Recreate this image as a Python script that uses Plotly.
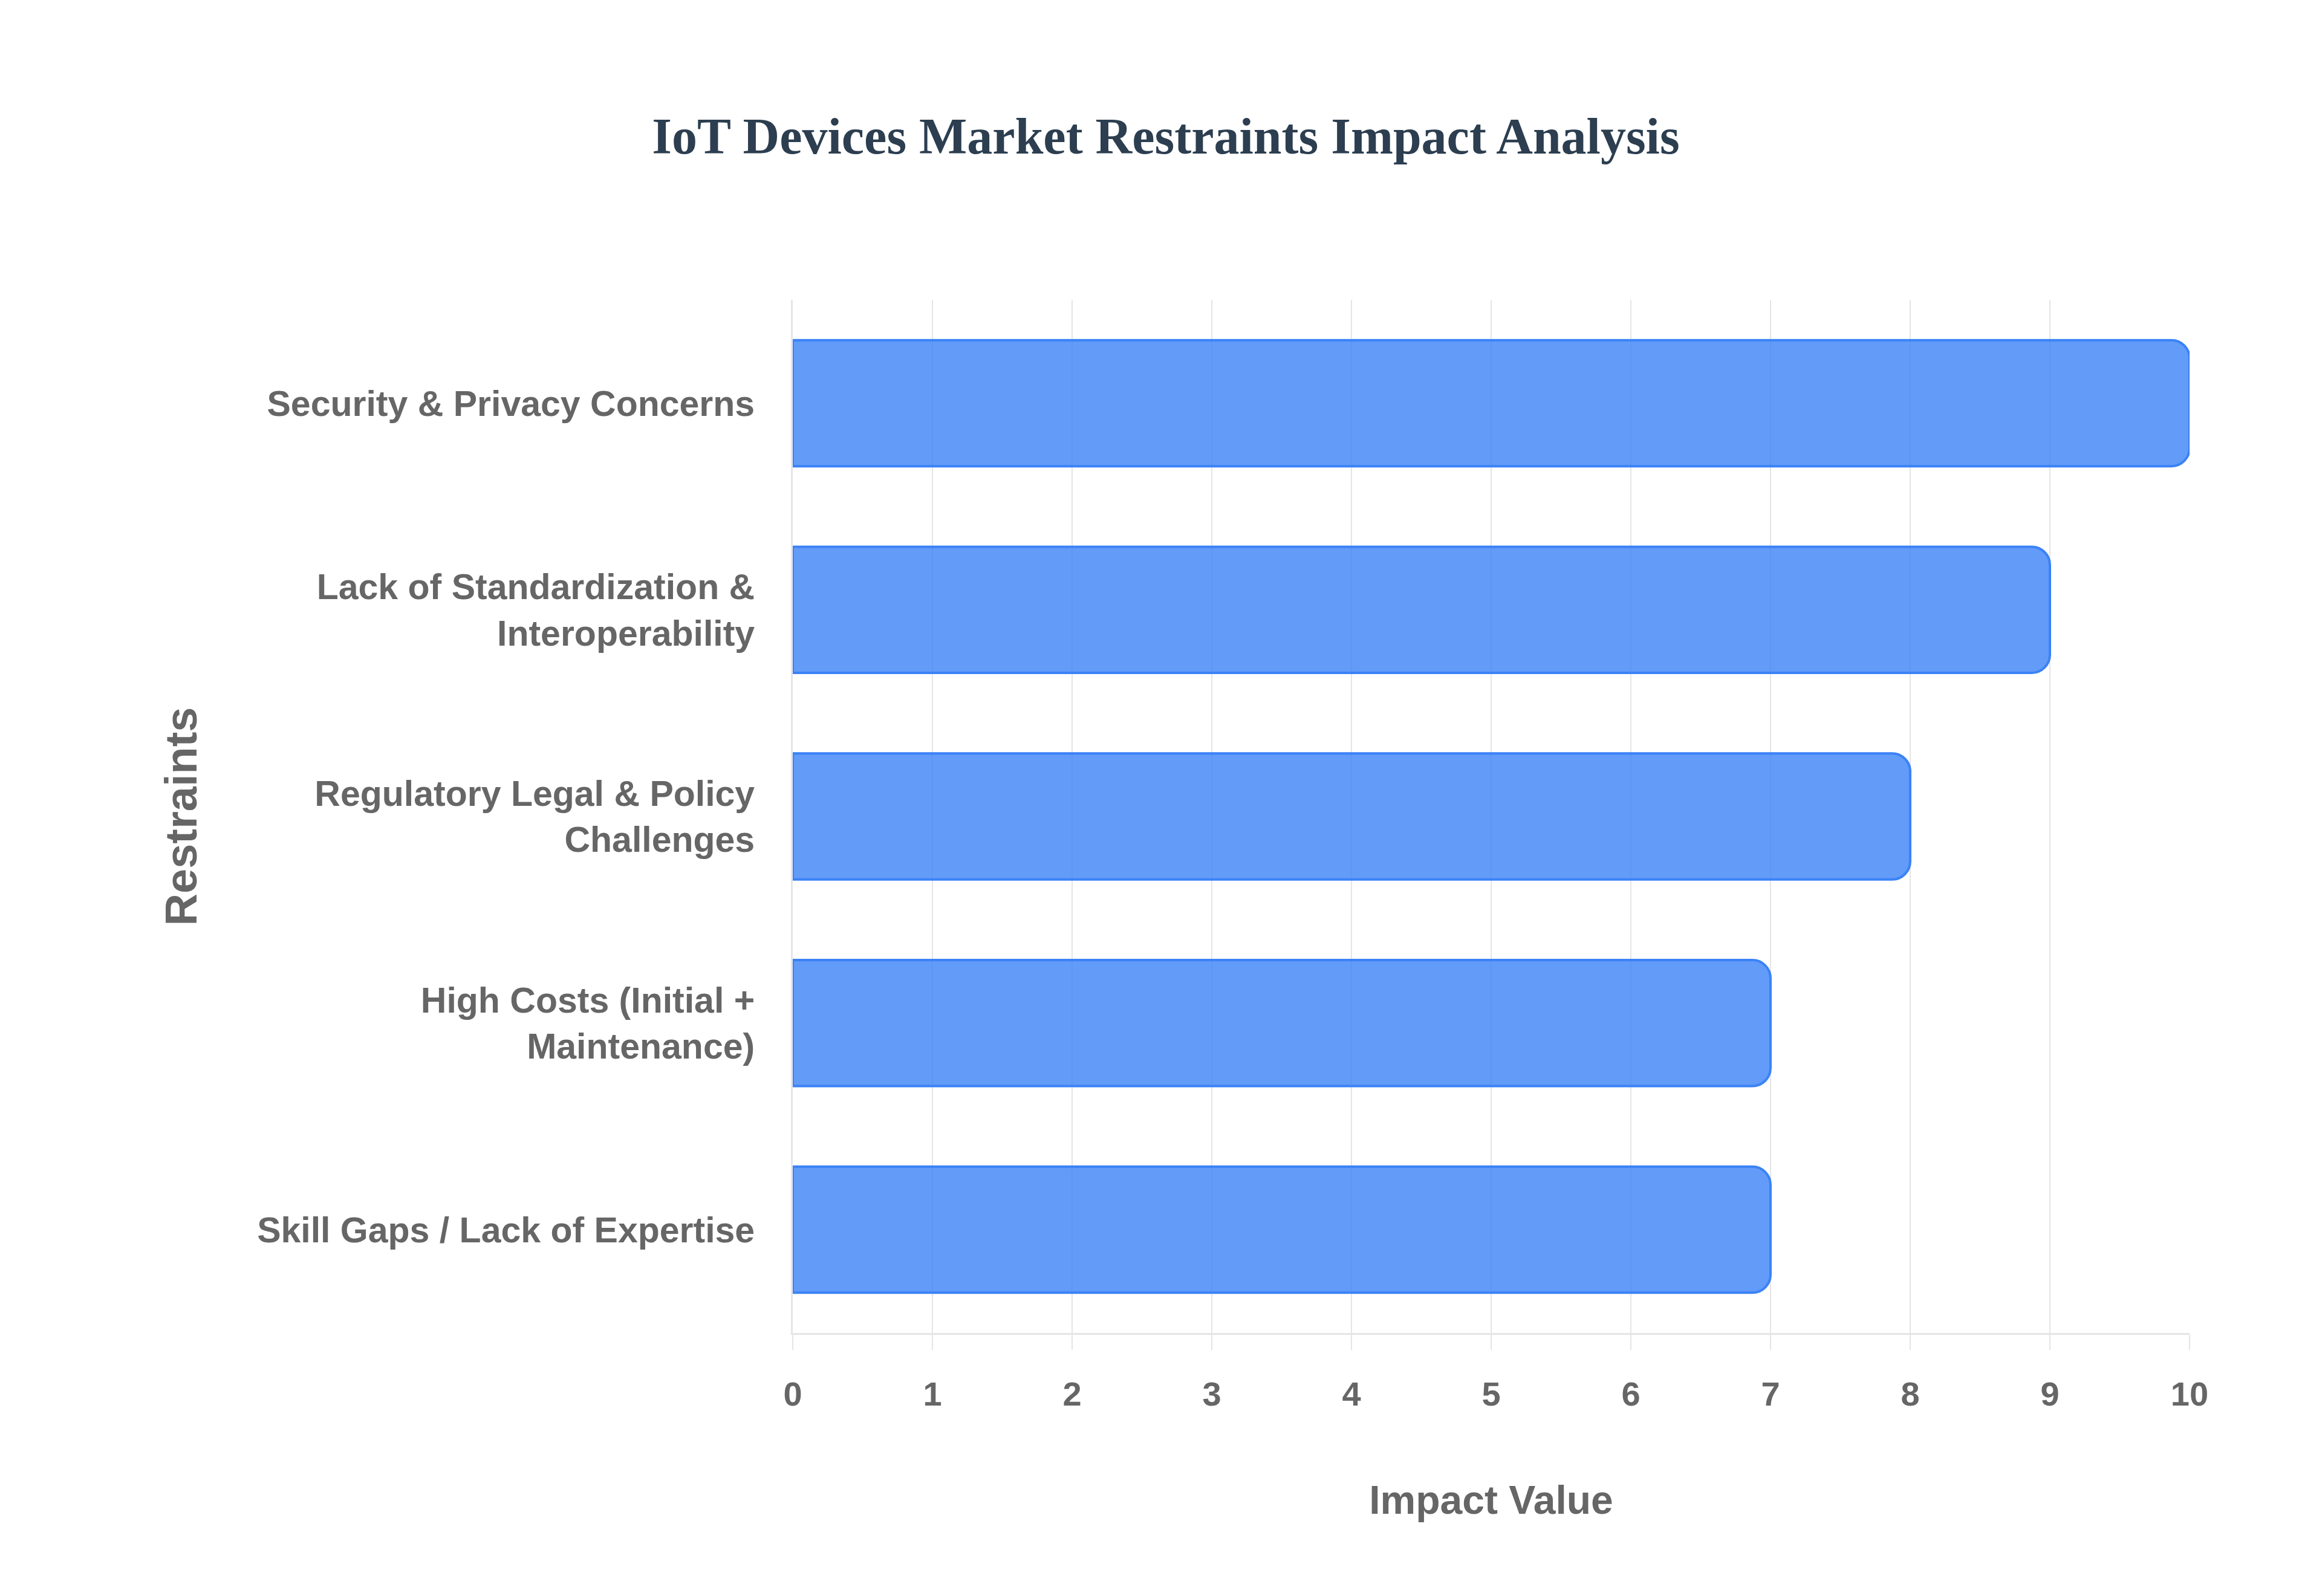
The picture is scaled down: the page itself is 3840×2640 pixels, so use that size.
"""IoT devices market restraints - horizontal bar chart."""
import plotly.graph_objects as go

restraints = [
    'Security & Privacy Concerns',
    'Lack of Standardization &<br>Interoperability',
    'Regulatory Legal & Policy<br>Challenges',
    'High Costs (Initial +<br>Maintenance)',
    'Skill Gaps / Lack of Expertise',
]
impact = [10, 9, 8, 7, 7]
x_ticks = list(range(0, 11))

GRID = '#e5e5e5'
LABEL = '#666666'
SANS = 'Liberation Sans, Arial, sans-serif'

fig = go.Figure()

fig.add_trace(go.Bar(
    x=impact,
    y=restraints,
    orientation='h',
    marker=dict(
        color='rgba(59, 130, 246, 0.8)',
        line=dict(color='#3b82f6', width=4),
        cornerradius=30,
    ),
    width=0.61,
    showlegend=False,
))

fig.update_layout(
    width=3840,
    height=2640,
    paper_bgcolor='white',
    plot_bgcolor='white',
    title=dict(
        text='<b>IoT Devices Market Restraints Impact Analysis</b>',
        x=0.5,
        xanchor='center',
        y=0.918,
        yanchor='middle',
        font=dict(family='Liberation Serif', size=84, color='#2c3e50'),
    ),
    margin=dict(l=1303, r=227, t=488, b=443),
    font=dict(family=SANS, color=LABEL),
)

fig.update_xaxes(
    range=[0, 10],
    tickvals=x_ticks,
    ticktext=[str(v) for v in x_ticks],
    showgrid=True,
    gridcolor=GRID,
    gridwidth=2,
    ticks='outside',
    ticklen=25,
    tickcolor=GRID,
    tickwidth=2,
    showline=True,
    linecolor=GRID,
    linewidth=3,
    zeroline=False,
    tickfont=dict(family=SANS, size=56, color=LABEL, weight='bold'),
    ticklabelstandoff=25,
    title=dict(
        text='<b>Impact Value</b>',
        font=dict(family=SANS, size=66, color=LABEL),
        standoff=122,
    ),
)

fig.update_yaxes(
    categoryorder='array',
    categoryarray=restraints[::-1],
    showgrid=False,
    showline=True,
    linecolor=GRID,
    linewidth=3,
    ticks='',
    tickfont=dict(family=SANS, size=59, color=LABEL, weight='bold'),
    ticklabelstandoff=48,
    title=dict(
        text='<b>Restraints</b>',
        font=dict(family=SANS, size=74, color=LABEL),
        standoff=76,
    ),
)

fig.write_html('out.html')
